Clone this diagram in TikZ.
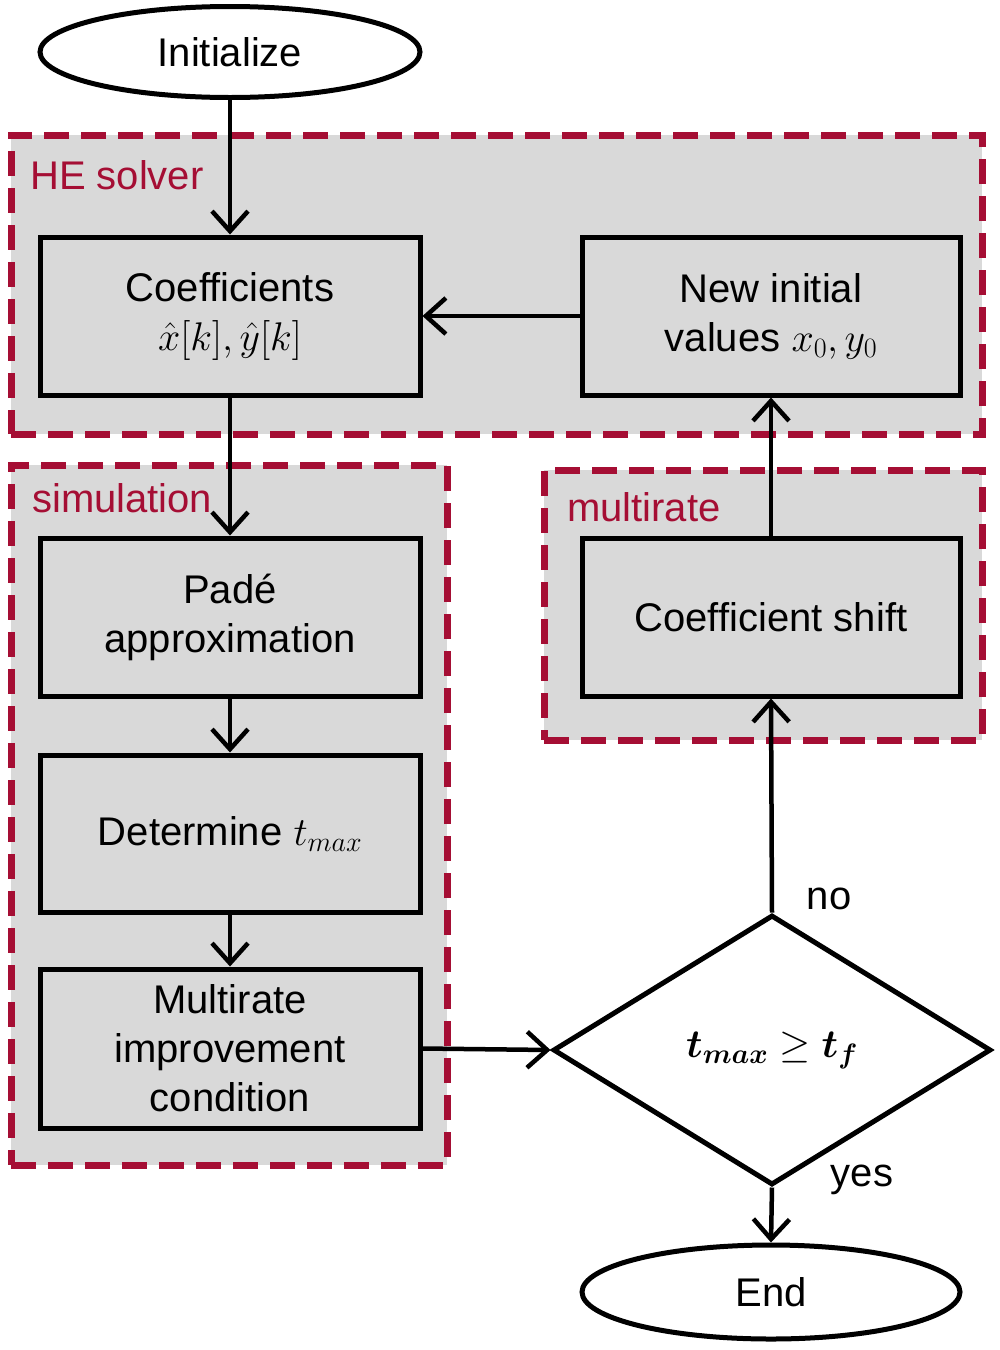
\RequirePackage{fix-cm}
\documentclass[tikz,border=0pt]{standalone}
\usepackage{fontspec}
\setmainfont{Liberation Sans}
\usepackage{bm}
\usetikzlibrary{shapes.geometric,arrows.meta}
\definecolor{grp}{HTML}{A50E34}
\definecolor{fillg}{HTML}{D9D9D9}
\begin{document}
\begin{tikzpicture}[x=1pt,y=-1pt,
  bigfont/.style={font=\fontsize{40}{49}\selectfont},
  grpbox/.style={draw=grp, fill=fillg, line width=7pt, dash pattern=on 25pt off 12pt, inner sep=0pt},
  procbox/.style={draw=black, fill=fillg, line width=5pt, inner sep=0pt, align=center, bigfont},
  term/.style={ellipse, draw=black, fill=white, line width=5pt, inner sep=0pt, bigfont},
  dec/.style={diamond, draw=black, fill=white, line width=5pt, inner sep=0pt, bigfont},
  lbl/.style={text=grp, inner sep=0pt, anchor=west, bigfont},
  plain/.style={inner sep=0pt, bigfont},
  arr/.style={line width=4.5pt, -{Straight Barb[length=20pt,width=36pt]}}
]
\useasboundingbox (0,0) rectangle (1000,1350);
% group boxes
\node[grpbox, minimum width=971pt, minimum height=299pt] (he) at (496.5,284.5) {};
\node[grpbox, minimum width=436pt, minimum height=700pt] (sim) at (229,815) {};
\node[grpbox, minimum width=438pt, minimum height=270pt] (mr) at (763,605) {};
\node[lbl] (helbl) at (30,175) {HE solver};
\node[lbl] (simlbl) at (32,498) {simulation};
\node[lbl] (mrlbl) at (567,507) {multirate};
% process nodes
\node[term, minimum width=380pt, minimum height=91pt] (init) at (230,52) {Initialize};
\node[procbox, minimum width=380pt, minimum height=158pt] (coeff) at (230,316) {Coefficients\\$\hat{x}[k],\hat{y}[k]$};
\node[procbox, minimum width=378pt, minimum height=158pt] (new) at (771,316) {New initial\\values $x_0,y_0$};
\node[procbox, minimum width=380pt, minimum height=158pt] (pade) at (230,617) {Padé\\approximation};
\node[procbox, minimum width=380pt, minimum height=157pt] (det) at (230,833.5) {Determine $t_{max}$};
\node[procbox, minimum width=380pt, minimum height=159pt] (multi) at (230,1048.5) {Multirate\\improvement\\condition};
\node[procbox, minimum width=378pt, minimum height=158pt] (shift) at (771,617) {Coefficient shift};
\node[dec, minimum width=438pt, minimum height=270pt] (dia) at (772,1050) {$\bm{t_{max}}\geq\bm{t_f}$};
\node[term, minimum width=378pt, minimum height=94pt] (endn) at (771,1292) {End};
\node[plain] (no) at (829,899) {no};
\node[plain] (yes) at (862,1180) {yes};
% connectors
\draw[arr] (init) -- (coeff);
\draw[arr] (new) -- (coeff);
\draw[arr] (coeff) -- (pade);
\draw[arr] (pade) -- (det);
\draw[arr] (det) -- (multi);
\draw[arr] (multi.east) -- (dia.west);
\draw[arr] (dia.north) -- (shift.south);
\draw[arr] (shift.north) -- (new.south);
\draw[arr] (dia.south) -- (endn.north);
\end{tikzpicture}
\end{document}
